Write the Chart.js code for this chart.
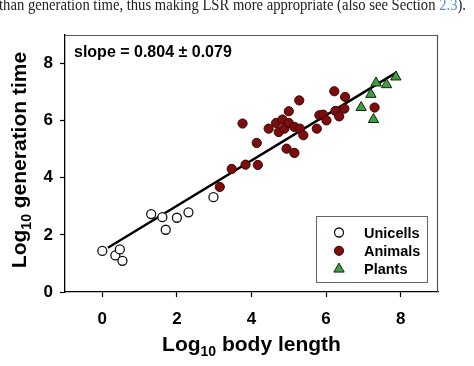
<!DOCTYPE html>
<html>
<head>
<meta charset="utf-8">
<script src="https://cdn.jsdelivr.net/npm/chart.js@4.4.1/dist/chart.umd.min.js"></script>
<style>
  html, body { margin: 0; padding: 0; background: #fff; }
  canvas { display: block; }
</style>
</head>
<body>
<canvas id="scatterGraph" width="474" height="366"></canvas>
<script>
'use strict'

// values
const unicellX = [0.00, 0.35, 0.47, 0.54, 1.31, 1.61, 1.70, 2.00, 2.31, 2.98];
const unicellY = [1.44, 1.28, 1.49, 1.09, 2.73, 2.62, 2.18, 2.60, 2.79, 3.32];

const animalX = [3.15, 3.47, 3.76, 3.84, 4.14, 4.17, 4.46, 4.66, 4.73, 4.83, 4.88, 5.00, 5.00, 5.15, 5.28,
  5.30, 5.39, 4.94, 5.15, 5.75, 5.82, 5.92, 6.01, 6.22, 6.25, 6.35, 6.49, 6.51, 7.30];
const animalY = [3.68, 4.31, 5.90, 4.46, 5.22, 4.45, 5.72, 5.92, 5.60, 6.04, 5.72, 6.33, 5.92, 5.78, 6.71,
  5.72, 5.49, 5.02, 4.87, 5.72, 6.19, 6.21, 6.01, 7.03, 6.34, 6.15, 6.42, 6.83, 6.46];

const plantX = [6.94, 7.20, 7.27, 7.34, 7.62, 7.87];
const plantY = [6.46, 6.92, 6.04, 7.32, 7.26, 7.53];

const fitX = [0.15, 7.90];
const fitY = [1.55, 7.70];

const xTicks = [0, 2, 4, 6, 8];
const yTicks = [0, 2, 4, 6, 8];

const seriesNames = ['Unicells', 'Animals', 'Plants'];
const slopeText = 'slope = 0.804 \u00b1 0.079';
const captionText = 'than generation time, thus making LSR more appropriate (also see Section ';
const captionRef = '2.3';

const toPoints = (xs, ys) => xs.map((x, i) => ({x: x, y: ys[i]}));
const FONT = '"Liberation Sans", Arial, sans-serif';

{
  const data = {
    datasets: [
      {
        label: seriesNames[0],
        data: toPoints(unicellX, unicellY),
        pointStyle: 'circle',
        pointRadius: 4.5,
        backgroundColor: '#ffffff',
        borderColor: '#111111',
        borderWidth: 1.3,
        order: 1,
      },
      {
        label: seriesNames[1],
        data: toPoints(animalX, animalY),
        pointStyle: 'circle',
        pointRadius: 4.6,
        backgroundColor: '#7d0c0c',
        borderColor: '#3a0606',
        borderWidth: 1,
        order: 1,
      },
      {
        label: seriesNames[2],
        data: toPoints(plantX, plantY),
        pointStyle: 'triangle',
        pointRadius: 6,
        backgroundColor: '#3f9e3f',
        borderColor: '#0d2a0d',
        borderWidth: 1,
        order: 1,
      },
      {
        label: 'fit',
        data: toPoints(fitX, fitY),
        showLine: true,
        borderColor: '#000000',
        borderWidth: 2.4,
        pointRadius: 0,
        order: 5,
      },
    ]
  };

  const drawSubTitle = (ctx, x, y, pre, sub, post, size) => {
    const big = 'bold ' + size + 'px ' + FONT;
    const small = 'bold ' + Math.round(size * 0.68) + 'px ' + FONT;
    ctx.font = big;
    const w1 = ctx.measureText(pre).width;
    const w3 = ctx.measureText(post).width;
    ctx.font = small;
    const w2 = ctx.measureText(sub).width;
    let left = x - (w1 + w2 + w3) / 2;
    ctx.textAlign = 'left';
    ctx.textBaseline = 'alphabetic';
    ctx.font = big;
    ctx.fillText(pre, left, y);
    ctx.font = small;
    ctx.fillText(sub, left + w1, y + 5);
    ctx.font = big;
    ctx.fillText(post, left + w1 + w2, y);
  };

  const extras = {
    id: 'extras',
    afterDraw(chart) {
      const ctx = chart.ctx;
      const a = chart.chartArea;
      ctx.save();

      // grey frame on top and right
      ctx.strokeStyle = '#555555';
      ctx.lineWidth = 1.2;
      ctx.beginPath();
      ctx.moveTo(a.left, a.top + 0.5);
      ctx.lineTo(a.right - 0.5, a.top + 0.5);
      ctx.lineTo(a.right - 0.5, a.bottom);
      ctx.stroke();

      // caption line cut at the top
      ctx.font = '16px "Liberation Serif", serif';
      ctx.textBaseline = 'alphabetic';
      ctx.textAlign = 'left';
      const wa = ctx.measureText(captionText).width;
      const wb = ctx.measureText(captionRef).width;
      const wc = ctx.measureText(').').width;
      const sx = 467 / (wa + wb + wc);
      ctx.save();
      ctx.translate(-1, 9.5);
      ctx.scale(sx, 1);
      ctx.fillStyle = '#222222';
      ctx.fillText(captionText, 0, 0);
      ctx.fillStyle = '#5b8fd6';
      ctx.fillText(captionRef, wa, 0);
      ctx.fillStyle = '#222222';
      ctx.fillText(').', wa + wb, 0);
      ctx.restore();

      // slope annotation
      ctx.fillStyle = '#000000';
      ctx.font = 'bold 16px ' + FONT;
      ctx.fillText(slopeText, 74, 57);

      // axis titles
      drawSubTitle(ctx, (a.left + a.right) / 2, 351, 'Log', '10', ' body length', 21);
      ctx.save();
      ctx.translate(26, 160);
      ctx.rotate(-Math.PI / 2);
      drawSubTitle(ctx, 0, 0, 'Log', '10', ' generation time', 21);
      ctx.restore();

      // legend box
      ctx.strokeStyle = '#666666';
      ctx.lineWidth = 1;
      ctx.strokeRect(316.5, 216.5, 111, 66);
      ctx.font = 'bold 14.5px ' + FONT;
      ctx.textBaseline = 'middle';
      chart.data.datasets.slice(0, 3).forEach((ds, i) => {
        const y = 232.5 + i * 18.3;
        ctx.fillStyle = ds.backgroundColor;
        ctx.strokeStyle = ds.borderColor;
        ctx.lineWidth = ds.borderWidth;
        Chart.helpers.drawPoint(ctx, {pointStyle: ds.pointStyle, radius: ds.pointRadius, rotation: 0, borderWidth: ds.borderWidth}, 339, y);
        ctx.fillStyle = '#000000';
        ctx.fillText(ds.label, 364, y + 1);
      });

      ctx.restore();
    }
  };

  const options = {
    responsive: false,
    devicePixelRatio: 1,
    animation: false,
    layout: {
      padding: {top: 35, right: 36, left: 0, bottom: 0}
    },
    scales: {
      x: {
        type: 'linear',
        min: -1,
        max: 9,
        afterBuildTicks: scale => { scale.ticks = xTicks.map(v => ({value: v})); },
        afterFit: scale => { scale.height = 74; },
        grid: {
          drawOnChartArea: false,
          drawTicks: true,
          tickLength: 5,
          tickColor: '#000000',
          tickWidth: 1.2,
        },
        border: {color: '#000000', width: 1.3},
        ticks: {
          color: '#000000',
          padding: 12,
          maxRotation: 0,
          font: {family: FONT, size: 17, weight: 'bold'},
        },
      },
      y: {
        type: 'linear',
        min: 0,
        max: 9,
        afterBuildTicks: scale => { scale.ticks = yTicks.map(v => ({value: v})); },
        afterFit: scale => { scale.width = 65; },
        grid: {
          drawOnChartArea: false,
          drawTicks: true,
          tickLength: 5,
          tickColor: '#000000',
          tickWidth: 1.2,
        },
        border: {color: '#000000', width: 1.3},
        ticks: {
          color: '#000000',
          padding: 7,
          font: {family: FONT, size: 17, weight: 'bold'},
        },
      },
    },
    plugins: {
      legend: {display: false},
      tooltip: {enabled: false},
    },
  };

  const ctx = document.getElementById('scatterGraph').getContext('2d');
  const growthGraph = new Chart(ctx, {
    type: 'scatter',
    data: data,
    options: options,
    plugins: [extras],
  });
}
</script>
</body>
</html>
